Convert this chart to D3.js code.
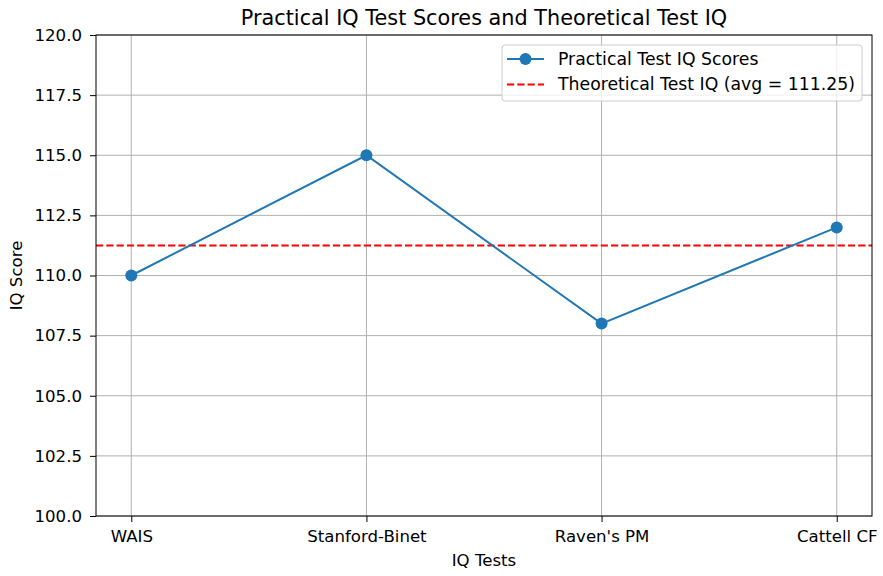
<!DOCTYPE html>
<html><head><meta charset="utf-8">
<script src="https://cdn.jsdelivr.net/npm/d3@7"></script>
<style>body{margin:0;background:#fff}svg{display:block;font-family:"DejaVu Sans",sans-serif}</style>
</head><body><svg id="c" width="883" height="576"></svg>
<script>
const categories = ["WAIS", "Stanford-Binet", "Raven's PM", "Cattell CF"];
const practicalScores = [110, 115, 108, 112];
const theoreticalAvg = 111.25;
const yTicks = [100, 102.5, 105, 107.5, 110, 112.5, 115, 117.5, 120];

const svg = d3.select("#c");
const L = 96, R = 872, T = 35, B = 516;
const FS = "16.6px";
const x = d3.scaleLinear().domain([-0.15, 3.15]).range([L, R]);
const y = d3.scaleLinear().domain([100, 120]).range([B, T]);

// grid
const g = svg.append("g");
g.selectAll(".gx").data(categories).enter().append("line")
  .attr("x1", (d,i)=>x(i)).attr("x2", (d,i)=>x(i)).attr("y1", T).attr("y2", B)
  .attr("stroke", "#b0b0b0").attr("stroke-width", 1);
g.selectAll(".gy").data(yTicks).enter().append("line")
  .attr("x1", L).attr("x2", R).attr("y1", d=>y(d)).attr("y2", d=>y(d))
  .attr("stroke", "#b0b0b0").attr("stroke-width", 1);

// axes
const xAxis = d3.axisBottom(x).tickValues([0,1,2,3]).tickFormat(i=>categories[i]).tickSize(6).tickPadding(8);
const yAxis = d3.axisLeft(y).tickValues(yTicks).tickFormat(d3.format(".1f")).tickSize(6).tickPadding(8);
const ax = svg.append("g").attr("transform", `translate(0,${B})`).call(xAxis);
const ay = svg.append("g").attr("transform", `translate(${L},0)`).call(yAxis);
[ax, ay].forEach(a => {
  a.select(".domain").remove();
  a.selectAll("text").attr("font-size", FS).attr("fill", "#000").attr("font-family", "DejaVu Sans");
  a.selectAll("line").attr("stroke", "#000").attr("stroke-width", 1);
});

// avg line
svg.append("line").attr("x1", L).attr("x2", R).attr("y1", y(theoreticalAvg)).attr("y2", y(theoreticalAvg))
  .attr("stroke", "red").attr("stroke-width", 2).attr("stroke-dasharray", "7.2,3.1");

// series
const line = d3.line().x((d,i)=>x(i)).y(d=>y(d));
svg.append("path").datum(practicalScores).attr("d", line).attr("fill", "none")
  .attr("stroke", "#1f77b4").attr("stroke-width", 2);
svg.selectAll(".pt").data(practicalScores).enter().append("circle")
  .attr("cx", (d,i)=>x(i)).attr("cy", d=>y(d)).attr("r", 6).attr("fill", "#1f77b4");

// frame
svg.append("rect").attr("x", L).attr("y", T).attr("width", R-L).attr("height", B-T)
  .attr("fill", "none").attr("stroke", "#000").attr("stroke-width", 1);

// labels
svg.append("text").attr("x", (L+R)/2).attr("y", 25).attr("text-anchor", "middle")
  .attr("font-size", "20.8px").text("Practical IQ Test Scores and Theoretical Test IQ");
svg.append("text").attr("x", (L+R)/2).attr("y", 566).attr("text-anchor", "middle")
  .attr("font-size", FS).text("IQ Tests");
svg.append("text").attr("transform", `translate(22,${(T+B)/2}) rotate(-90)`).attr("text-anchor", "middle")
  .attr("font-size", FS).text("IQ Score");

// legend
const lg = svg.append("g");
lg.append("rect").attr("x", 502).attr("y", 45).attr("width", 360).attr("height", 56).attr("rx", 3)
  .attr("fill", "#fff").attr("fill-opacity", 0.8).attr("stroke", "#cccccc").attr("stroke-width", 1);
lg.append("line").attr("x1", 507).attr("x2", 544).attr("y1", 59).attr("y2", 59).attr("stroke", "#1f77b4").attr("stroke-width", 2);
lg.append("circle").attr("cx", 525.5).attr("cy", 59).attr("r", 6).attr("fill", "#1f77b4");
lg.append("text").attr("x", 558).attr("y", 64.5).attr("font-size", "17.3px").text("Practical Test IQ Scores");
lg.append("line").attr("x1", 507).attr("x2", 544).attr("y1", 84.5).attr("y2", 84.5).attr("stroke", "red").attr("stroke-width", 2).attr("stroke-dasharray", "7.2,3.1");
lg.append("text").attr("x", 558).attr("y", 90).attr("font-size", "17.3px").text(`Theoretical Test IQ (avg = ${theoreticalAvg})`);
</script></body></html>
